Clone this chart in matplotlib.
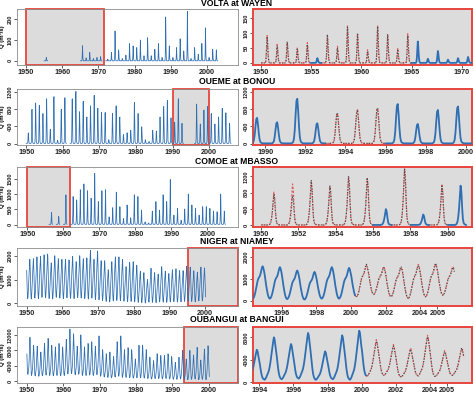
import numpy as np
import matplotlib
matplotlib.use("Agg")
import matplotlib.pyplot as plt
from matplotlib.patches import Rectangle

plt.rcParams['font.family'] = ['Liberation Sans', 'DejaVu Sans']

# ---------------- data (annual flood peaks / low flows, m3/s) ----------------
volta_years = list(range(1950, 2003))
volta_obs = [None, None, None, None, None, 16, None, None, None, None,
             None, None, None, None, None, 72, 14, 40, 11, 16,
             20, None, 8, 40, 142, 52, 11, 27, 82, 71,
             63, 99, 24, 110, 24, 55, 82, 16, 209, 71,
             16, 63, 105, 47, 236, 11, 63, 31, 83, 157,
             16, 55, 52]
volta_low = [0] * len(volta_years)
volta_rec_years = list(range(1950, 1971))
volta_rec_red = [92, 62, 68, 50, 68, None, 92, 56, 124, 98, 44, 126, 92, 50, 98,
                 None, None, None, None, None, None]
volta_rec_dark = [88, 58, 72, 46, 62, None, 95, 48, 120, 100, 40, 122, 95, 45, 92,
                  None, None, None, None, None, None]
# seasonal hydrograph shapes, 24 half-month steps (fraction of flood peak)
volta_shape = [0, 0, 0, 0, 0, 0, 0, 0, 0, 0, 0.02, 0.08,
               0.3, 0.7, 1.0, 0.8, 0.45, 0.2, 0.07, 0.02, 0, 0, 0, 0]

oueme_years = list(range(1950, 2006))
oueme_obs = [250, 800, 947, 890, 702, 1045, 335, 1094, 80, 800,
             1069, None, 1045, 1216, 743, 987, 620, 881, 1126, 824,
             726, 726, 90, 702, 881, 620, 212, 253, 310, 963,
             702, 392, 90, 50, 310, 294, 620, 865, 1012, 600,
             498, 1045, 473, None, None, None, 922, 457, 783, 865,
             702, 457, 620, 824, 718, 473]
oueme_low = [5] * len(oueme_years)
oueme_rec_years = list(range(1993, 1996))
oueme_rec_red = [700, 790, 830]
oueme_rec_dark = [718, 783, 824]
oueme_shape = [0, 0, 0, 0, 0, 0, 0, 0, 0.01, 0.03, 0.1, 0.3,
               0.65, 0.95, 1.0, 0.75, 0.4, 0.15, 0.05, 0.02, 0.01, 0, 0, 0]

comoe_years = list(range(1950, 2005))
comoe_obs = [None, None, None, None, None, None, 400, None, 267, None,
             975, None, 922, 811, 1144, 1333, 1111, 866, 1678, 755,
             1111, 1144, 255, 555, 1066, 589, 200, 644, 222, 978,
             922, 478, 89, 55, 444, 755, 478, 978, 755, 1478,
             311, 533, 144, 511, 1000, 644, 533, 311, 589, 589,
             533, 444, 422, 1000, 444]
comoe_low = [10] * len(comoe_years)
comoe_rec_years = list(range(1950, 1961))
comoe_rec_red = [817, 1017, 1060, 950, 1170, 1150, None, 1380, None, 1017, None]
comoe_rec_dark = [767, 733, 1100, 983, 1208, 1167, None, 1400, None, 960, None]
comoe_shape = [0, 0, 0, 0, 0, 0, 0, 0, 0, 0, 0.01, 0.03,
               0.08, 0.2, 0.4, 0.7, 1.0, 0.85, 0.45, 0.15, 0.05, 0.02, 0.01, 0]

niger_years = list(range(1950, 2000))
niger_obs = [1850, 1875, 1950, 1975, 2040, 2075, 1700, 2000, 1875, 1850,
             1850, 1825, 1975, 1750, 2000, 1875, 1910, 2225, 1850, 2200,
             1790, 1790, 1410, 1750, 1950, 1950, 1850, 1540, 1725, 1750,
             1600, 1350, 1290, 1000, 1475, 1290, 1225, 1540, 1350, 1250,
             1410, 1450, 1375, 1375, 1560, 1523, 1370, 1308, 1523, 1490]
niger_low = [200, 180, 220, 200, 250, 230, 200, 180, 250, 220,
             200, 230, 210, 200, 240, 220, 200, 180, 220, 160,
             150, 120, 80, 60, 100, 120, 110, 90, 70, 80,
             60, 40, 30, 10, 50, 40, 30, 60, 50, 40,
             60, 70, 50, 60, 80, 100, 80, 60, 100, 100]
niger_rec_years = list(range(2000, 2006))
niger_rec_red = [1600, 1550, 1500, 1650, 1650, 1550]
niger_rec_dark = [1650, 1500, 1550, 1600, 1700, 1500]
niger_rec_low = [180, 290, 185, 108, 185, 260]
niger_shape = [0.72, 0.55, 0.4, 0.27, 0.15, 0.07, 0.02, 0.0, 0.02, 0.06, 0.13, 0.22,
               0.33, 0.45, 0.55, 0.62, 0.66, 0.7, 0.76, 0.85, 0.95, 1.0, 0.95, 0.85]

oubangui_years = list(range(1950, 2000))
oubangui_obs = [11380, 9330, 9070, 7560, 9780, 11100, 9330, 8890, 9780, 8890,
                10840, 13500, 12270, 9070, 12000, 8890, 9780, 10220, 9070, 11730,
                8180, 7110, 7560, 6400, 10220, 11730, 8180, 8710, 8180, 5780,
                9330, 9330, 8180, 6220, 5330, 7110, 6670, 6670, 7110, 6400,
                4890, 6220, 8000, 5780, 8000, 6800, 8780, 5490, 8360, 9190]
oubangui_low = [1800, 1500, 1400, 1300, 1400, 1600, 1500, 1400, 1500, 1400,
                1500, 1900, 2000, 1700, 1800, 1500, 1500, 1600, 1500, 1700,
                1300, 1100, 1000, 900, 1100, 1300, 1000, 1000, 900, 800,
                900, 900, 800, 700, 600, 700, 700, 600, 700, 600,
                500, 500, 600, 500, 400, 500, 600, 400, 500, 400]
oubangui_rec_years = list(range(2000, 2006))
oubangui_rec_red = [7580, 6690, 6090, 8360, 5610, 5970]
oubangui_rec_dark = [7300, 6400, 5800, 8100, 5400, 6100]
oubangui_rec_low = [1000, 1200, 900, 1100, 1000, 1200]
oubangui_shape = [0.55, 0.4, 0.25, 0.14, 0.07, 0.03, 0.01, 0.0, 0.02, 0.05, 0.09, 0.13,
                  0.17, 0.22, 0.3, 0.4, 0.52, 0.65, 0.78, 0.9, 1.0, 0.95, 0.82, 0.68]

titles = ["VOLTA at WAYEN", "OUEME at BONOU", "COMOE at MBASSO",
          "NIGER at NIAMEY", "OUBANGUI at BANGUI"]

# ---------------- helpers ----------------
W, H = 474, 393
fig = plt.figure(figsize=(W / 100, H / 100), dpi=100)

BLUE = '#2f6fb3'
RED = '#e8453c'
GRAY_BG = '#dcdcdc'
FRAME = '#8c8c8c'
NSTEP = 24


def ax_px(x0, x1, y0, y1):
    return fig.add_axes([x0 / W, 1 - y1 / H, (x1 - x0) / W, (y1 - y0) / H])


def series(years, peaks, lows, shape, carry):
    t, v = [], []
    for i, y in enumerate(years):
        for k in range(NSTEP):
            t.append(y + (k + 0.5) / NSTEP)
            if k < carry:
                src = peaks[i - 1] if i > 0 else peaks[i]
            else:
                src = peaks[i]
            if src is None:
                v.append(np.nan)
            else:
                lo = lows[i]
                v.append(lo + (src - lo) * shape[k])
    return np.array(t), np.array(v)


def style_axis(ax, color, lw):
    for s in ax.spines.values():
        s.set_color(color)
        s.set_linewidth(lw)
    ax.tick_params(axis='both', length=2.0, width=0.6, color='#444444', pad=0.8)
    ax.tick_params(axis='x', labelsize=5.2)
    ax.tick_params(axis='y', labelsize=4.1)
    for lab in ax.get_xticklabels() + ax.get_yticklabels():
        lab.set_fontweight('bold')
        lab.set_color('#222222')
    for lab in ax.get_yticklabels():
        lab.set_rotation(90)
        lab.set_va('center')


def station(row, years, obs, lows, shape, carry, rec_years, rec_red, rec_dark,
            rec_low, lxlim, lylim, lyticks, span, rxlim, rylim, ryticks, rxticks):
    top, bot = rows[row]
    all_years = list(range(min(years[0], rec_years[0]), max(years[-1], rec_years[-1]) + 1))
    o = {y: p for y, p in zip(years, obs)}
    lw_ = {y: l for y, l in zip(years, lows)}
    if rec_low is not None:
        for y, l in zip(rec_years, rec_low):
            lw_[y] = l
    ob = [o.get(y) for y in all_years]
    lo = [lw_.get(y, 0) for y in all_years]
    rr = {y: p for y, p in zip(rec_years, rec_red)}
    rd = {y: p for y, p in zip(rec_years, rec_dark)}
    red_full = [rr[y] if rr.get(y) is not None else o.get(y) for y in all_years]
    dark_full = [rd[y] if rd.get(y) is not None else o.get(y) for y in all_years]

    t, vo = series(all_years, ob, lo, shape, carry)
    _, vr = series(all_years, red_full, lo, shape, carry)
    _, vd = series(all_years, dark_full, lo, shape, carry)

    # left panel: observed record, gap window highlighted
    ax = ax_px(17, 238, top, bot)
    ax.add_patch(Rectangle((span[0], lylim[0]), span[1] - span[0], lylim[1] - lylim[0],
                           facecolor=GRAY_BG, edgecolor=RED, lw=1.3, zorder=1,
                           clip_on=False))
    ax.plot(t, vo, color=BLUE, lw=0.55, zorder=3)
    ax.set_xlim(*lxlim)
    ax.set_ylim(*lylim)
    ax.set_yticks(lyticks)
    ax.set_xticks([1950, 1960, 1970, 1980, 1990, 2000])
    style_axis(ax, FRAME, 0.6)
    ax.set_ylabel('Q (m³/s)', fontsize=4.3, fontweight='bold')
    ax.yaxis.set_label_coords(-0.055, 0.5)

    # right panel: zoom on the window, observed vs reconstructed
    ax2 = ax_px(253, 472, top, bot)
    ax2.set_facecolor(GRAY_BG)
    valid = ~np.isnan(vo)
    prev = np.r_[False, valid[:-1]]
    nxt = np.r_[valid[1:], False]
    keep = valid & prev & nxt
    inwin = (t >= rxlim[0] - 0.2) & (t <= rxlim[1] + 0.2)
    vr2 = np.where(keep | ~inwin, np.nan, vr)
    vd2 = np.where(keep | ~inwin, np.nan, vd)
    ax2.plot(t, vr2, color='#e05555', lw=0.8, ls=(0, (2.0, 1.5)), zorder=2)
    ax2.plot(t, vd2, color='#4a4a4a', lw=0.9, ls=(0, (0.8, 1.3)), zorder=3)
    ax2.plot(t, np.where(inwin, vo, np.nan), color=BLUE, lw=1.3, zorder=4)
    ax2.set_xlim(*rxlim)
    ax2.set_ylim(*rylim)
    ax2.set_yticks(ryticks)
    ax2.set_xticks(rxticks)
    style_axis(ax2, RED, 1.4)


rows = [(9, 65), (89, 145), (167, 227), (248, 306), (327, 383)]
title_y = [4, 82, 161, 241, 320]
for ty, tt in zip(title_y, titles):
    fig.text(0.5, 1 - ty / H, tt, ha='center', va='center', fontsize=6.2,
             fontweight='bold')

station(0, volta_years, volta_obs, volta_low, volta_shape, 0,
        volta_rec_years, volta_rec_red, volta_rec_dark, None,
        (1947.5, 2008.6), (-20, 247), [0, 100, 200], (1950, 1971.5),
        (1949.2, 1971.0), (-7, 181), [0, 50, 100, 150], [1950, 1955, 1960, 1965, 1970])

station(1, oueme_years, oueme_obs, oueme_low, oueme_shape, 0,
        oueme_rec_years, oueme_rec_red, oueme_rec_dark, None,
        (1947.5, 2007.9), (-33, 1273), [0, 400, 800, 1200], (1990, 2000),
        (1989.4, 2000.3), (-33, 1273), [0, 400, 800, 1200],
        [1990, 1992, 1994, 1996, 1998, 2000])

station(2, comoe_years, comoe_obs, comoe_low, comoe_shape, 0,
        comoe_rec_years, comoe_rec_red, comoe_rec_dark, None,
        (1947.1, 2008.5), (-78, 1889), [0, 500, 1000, 1500], (1950, 1961.9),
        (1949.57, 1961.3), (-40, 1433), [0, 400, 800, 1200],
        [1950, 1952, 1954, 1956, 1958, 1960])

station(3, niger_years, niger_obs, niger_low, niger_shape, 6,
        niger_rec_years, niger_rec_red, niger_rec_dark, niger_rec_low,
        (1947.3, 2009.3), (-112, 2325), [0, 1000, 2000], (1995.4, 2009.2),
        (1994.34, 2007.0), (-230, 2385), [0, 1000, 2000],
        [1996, 1998, 2000, 2002, 2004, 2005])

station(4, oubangui_years, oubangui_obs, oubangui_low, oubangui_shape, 6,
        oubangui_rec_years, oubangui_rec_red, oubangui_rec_dark, oubangui_rec_low,
        (1947.3, 2008.1), (-444, 14044), [0, 4000, 8000, 12000], (1993.2, 2008.0),
        (1993.63, 2006.46), (-180, 9850), [0, 4000, 8000],
        [1994, 1996, 1998, 2000, 2002, 2004, 2005])

fig.savefig('out.png', dpi=100)
